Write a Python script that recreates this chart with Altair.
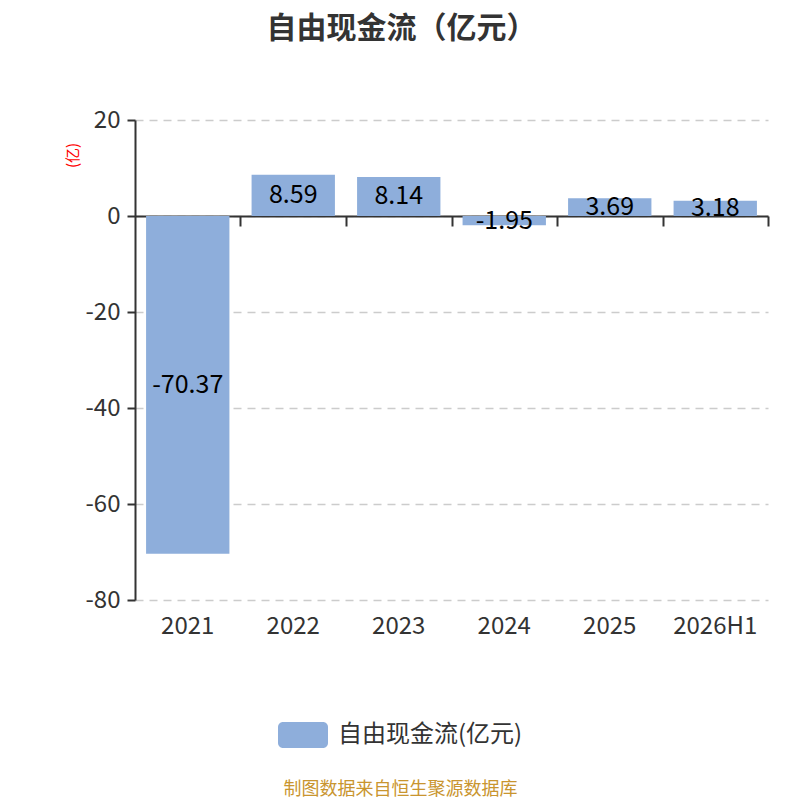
import altair as alt
import pandas as pd

years = ["2021", "2022", "2023", "2024", "2025", "2026H1"]
values = [-70.37, 8.59, 8.14, -1.95, 3.69, 3.18]
series_name = "自由现金流(亿元)"
chart_title = "自由现金流（亿元）"
footer = "制图数据来自恒生聚源数据库"
y_ticks = [-80, -60, -40, -20, 0, 20]

df = pd.DataFrame({"year": years, "value": values, "series": [series_name] * len(years)})
df["label"] = df["value"].map(lambda v: f"{v:.2f}")
df["mid"] = df["value"] / 2

FONT = "Noto Sans CJK SC"
BAR = "#8eaedb"

xscale = alt.Scale(paddingInner=0.21, paddingOuter=0.105)
yscale = alt.Scale(domain=[-80, 20], nice=False, zero=False)

yaxis = alt.Axis(
    title="(亿)", titleColor="red", titleFontSize=15, titleFontWeight="normal", titleFont=FONT,
    titleAngle=270, titleX=-63, titleY=35, titleAlign="center", titleBaseline="middle",
    values=y_ticks, labelExpr="datum.value + ''",
    labelFontSize=24, labelColor="#333", labelFont=FONT, labelPadding=7,
    tickSize=8, tickColor="#333", tickWidth=2, domainColor="#333", domainWidth=2,
    grid=True, gridColor="#cccccc", gridDash=[8, 6], gridWidth=1.5,
)

rounded = ("M-0.8,-0.52 L0.8,-0.52 A0.2,0.2 0 0 1 1,-0.32 L1,0.32 A0.2,0.2 0 0 1 0.8,0.52 "
           "L-0.8,0.52 A0.2,0.2 0 0 1 -1,0.32 L-1,-0.32 A0.2,0.2 0 0 1 -0.8,-0.52 Z")

bars = alt.Chart(df).mark_bar().encode(
    x=alt.X("year:N", sort=years, scale=xscale, axis=alt.Axis(
        orient="bottom",
        title=footer, titleColor="#c9952f", titleFontSize=18, titleFontWeight="normal", titleFont=FONT,
        titleX=265, titleY=189, titleAlign="center", titleBaseline="middle",
        labelAngle=0, labelFontSize=24, labelColor="#333", labelFont=FONT, labelPadding=14,
        domain=False, ticks=False, grid=False)),
    y=alt.Y("value:Q", scale=yscale, axis=yaxis),
    color=alt.Color("series:N", scale=alt.Scale(range=[BAR]), legend=alt.Legend(
        title=None, orient="none", legendX=143, legendY=590, direction="horizontal",
        symbolType=rounded, symbolSize=2500, symbolStrokeWidth=0, symbolOpacity=1,
        labelFontSize=24, labelColor="#333", labelFont=FONT, labelOffset=10, labelLimit=0)),
)

labels = alt.Chart(df).mark_text(fontSize=25, color="black", font=FONT, baseline="middle").encode(
    x=alt.X("year:N", sort=years, scale=xscale, axis=None),
    y=alt.Y("mid:Q", scale=yscale, axis=yaxis),
    text="label:N",
)

zero = alt.Chart(df).mark_point(opacity=0).encode(
    x=alt.X("year:N", sort=years, scale=xscale, axis=alt.Axis(
        orient="bottom", offset=-384,
        title=None, labels=False, grid=False, domain=True, domainColor="#333", domainWidth=2,
        ticks=True, tickOffset=52.75, tickSize=10, tickColor="#333", tickWidth=2)),
    y=alt.Y("value:Q", scale=yscale, axis=yaxis),
)

chart = alt.layer(bars, labels, zero).resolve_axis(x="independent").properties(
    width=633, height=480,
    autosize=alt.AutoSizeParams(type="none"),
    padding={"left": 127, "top": 112, "right": 24, "bottom": 200},
    title=alt.TitleParams(chart_title, fontSize=30, fontWeight="bold", color="#333", font=FONT,
                          anchor="middle", frame="group", dx=-50, offset=64),
).configure_view(stroke=None)

chart.save("out.html", embed_options={"renderer": "svg", "actions": False})
